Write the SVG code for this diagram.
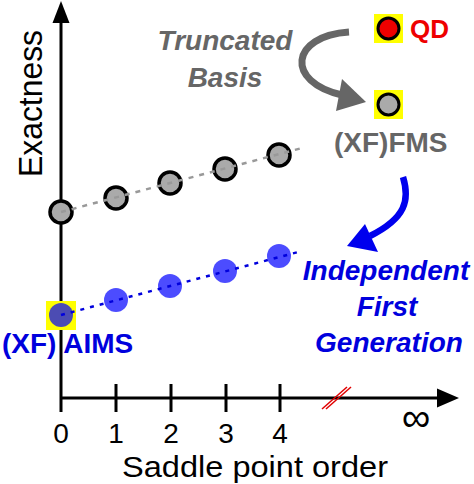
<svg xmlns="http://www.w3.org/2000/svg" width="474" height="484" viewBox="0 0 474 484">
<style>
.ax{stroke:#000;stroke-width:3;fill:none}
.lbl{font-family:"Liberation Sans",Arial,sans-serif;fill:#000}
.b{font-family:"Liberation Sans",Arial,sans-serif;font-weight:bold}
.gp{fill:#aaaaaa;stroke:#000;stroke-width:3.5}
.bp{fill:#0000ff;fill-opacity:0.7}
.hl{fill:#ffff00}
</style>
<rect width="474" height="484" fill="#fff"/>
<g id="axes">
<line class="ax" x1="61" y1="20" x2="61" y2="412"/>
<polygon points="61,1 52.5,23 69.5,23" fill="#000"/>
<line class="ax" x1="61" y1="398" x2="440" y2="398"/>
<polygon points="459,398 437,388.5 437,407.5" fill="#000"/>
<line class="ax" x1="116" y1="384" x2="116" y2="412"/>
<line class="ax" x1="171" y1="384" x2="171" y2="412"/>
<line class="ax" x1="226" y1="384" x2="226" y2="412"/>
<line class="ax" x1="280" y1="384" x2="280" y2="412"/>
<line x1="322" y1="409" x2="347" y2="387" stroke="#e00000" stroke-width="1.5"/>
<line x1="326" y1="409" x2="351" y2="387" stroke="#e00000" stroke-width="1.5"/>
<g class="lbl" font-size="28" text-anchor="middle">
<text x="61" y="443">0</text>
<text x="116" y="443">1</text>
<text x="171" y="443">2</text>
<text x="226" y="443">3</text>
<text x="280" y="443">4</text>
</g>
<text class="lbl" x="416" y="431" font-size="40" text-anchor="middle">∞</text>
<text class="lbl" x="122" y="477" font-size="30" textLength="266" lengthAdjust="spacingAndGlyphs">Saddle point order</text>
<text class="lbl" transform="translate(42,177) rotate(-90)" font-size="34" textLength="147" lengthAdjust="spacingAndGlyphs">Exactness</text>
</g>
<g id="fms-series">
<circle class="gp" cx="61" cy="212" r="11"/>
<circle class="gp" cx="116" cy="198" r="11"/>
<circle class="gp" cx="170" cy="183" r="11"/>
<circle class="gp" cx="225" cy="169" r="11"/>
<circle class="gp" cx="279" cy="155" r="11"/>
</g>
<g id="aims-series">
<rect class="hl" x="46" y="301" width="30" height="29"/>
<circle class="bp" cx="61" cy="315" r="12"/>
<circle class="bp" cx="116" cy="300" r="12"/>
<circle class="bp" cx="170" cy="286" r="12"/>
<circle class="bp" cx="225" cy="271" r="12"/>
<circle class="bp" cx="279" cy="256" r="12"/>
</g>
<g id="aims-label">
<text class="b" x="2" y="353" font-size="28" fill="#0000dd">(XF) AIMS</text>
</g>
<g id="qd">
<rect class="hl" x="374" y="14" width="29" height="29"/>
<circle cx="388.5" cy="28.5" r="10.5" fill="#ee0000" stroke="#000" stroke-width="3"/>
<text class="b" x="410" y="38" font-size="26" fill="#ee0000">QD</text>
</g>
<g id="fms">
<rect class="hl" x="374" y="90" width="29" height="29"/>
<circle cx="388.5" cy="104.5" r="10.5" fill="#aaaaaa" stroke="#000" stroke-width="3"/>
<text class="b" x="334" y="152" font-size="28" fill="#666">(XF)FMS</text>
</g>
<g id="truncated-label">
<text class="b" font-style="italic" font-size="28" fill="#666" text-anchor="middle"><tspan x="225" y="50">Truncated</tspan><tspan x="225" y="87">Basis</tspan></text>
</g>
<g id="ifg-label">
<text class="b" font-style="italic" font-size="28" fill="#0000dd" text-anchor="middle"><tspan x="386" y="280">Independent</tspan><tspan x="387" y="316">First</tspan><tspan x="389" y="352">Generation</tspan></text>
</g>
<g id="connectors">
<line x1="61" y1="212" x2="302" y2="148" stroke="#999" stroke-width="2.5" stroke-dasharray="5,6"/>
<line x1="61" y1="315" x2="302" y2="251" stroke="#0000dd" stroke-width="2.5" stroke-dasharray="4,6"/>
<path d="M349 32 C290 36,285 82,342 95" fill="none" stroke="#666" stroke-width="7"/>
<polygon points="366,102 342,79 336,111" fill="#666"/>
<path d="M403 177 C410 200,406 218,370 236" fill="none" stroke="#0000ee" stroke-width="6.5"/>
<polygon points="347,246 365,224 378,252" fill="#0000ee"/>
</g>
</svg>
